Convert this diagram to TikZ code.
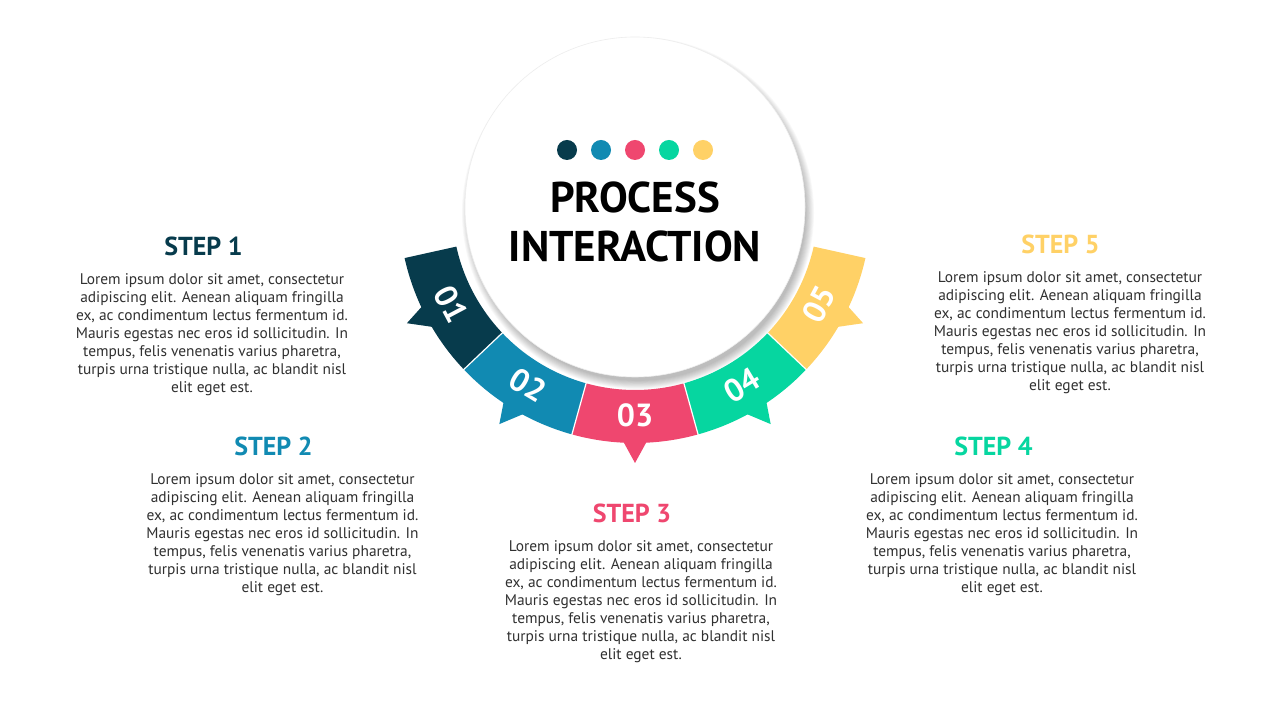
\documentclass[tikz,border=0pt]{standalone}
\usepackage{fontspec}
\setmainfont{PT Sans}
\definecolor{cA}{HTML}{073B4C}
\definecolor{cB}{HTML}{118AB2}
\definecolor{cC}{HTML}{EF476F}
\definecolor{cD}{HTML}{06D6A0}
\definecolor{cE}{HTML}{FFD166}
\definecolor{bodytxt}{HTML}{303030}
\newcommand{\lorem}{Lorem ipsum dolor sit amet, consectetur\\adipiscing elit. Aenean aliquam fringilla\\ex, ac condimentum lectus fermentum id.\\Mauris egestas nec eros id sollicitudin. In\\tempus, felis venenatis varius pharetra,\\turpis urna tristique nulla, ac blandit nisl\\elit eget est.}
\tikzset{
  steptitle/.style={anchor=base,inner sep=0pt,font=\fontsize{26}{26}\selectfont\bfseries},
  bodybox/.style={anchor=center,inner sep=0pt,align=center,text=bodytxt,font=\fontsize{15.4}{18}\selectfont},
  numlabel/.style={text=white,inner sep=0pt,font=\fontsize{32}{32}\selectfont\bfseries},
  titletxt/.style={anchor=base,inner sep=0pt,font=\fontsize{43}{43}\selectfont\bfseries},
}
\begin{document}
\begin{tikzpicture}[x=1pt,y=1pt]
\useasboundingbox (0,0) rectangle (1282,722);
\fill[white] (0,0) rectangle (1282,722);
% segments
\begin{scope}[shift={(635,515)}]
\foreach \i/\col/\tipoff in {1/cA/-1,2/cB/-1,3/cC/0,4/cD/1,5/cE/1}{
  \pgfmathsetmacro{\aa}{-167.5+31*(\i-1)}
  \pgfmathsetmacro{\ab}{\aa+31}
  \pgfmathsetmacro{\am}{\aa+15.5}
  \fill[\col] (\aa:183pt) -- (\aa:236pt) arc[start angle=\aa,end angle=\ab,radius=236pt]
     -- (\ab:183pt) arc[start angle=\ab,end angle=\aa,radius=183pt] -- cycle;
  \fill[\col] (\am-3.3:232pt) -- (\am+\tipoff:256pt) -- (\am+3.3:232pt) -- cycle;
}
\foreach \a in {-136.5,-105.5,-74.5,-43.5}{
  \draw[white,line width=1.2pt] (\a:182pt) -- (\a:237pt);
}
\node[numlabel,rotate=-62] (n1) at (-152:208pt) {01};
\node[numlabel,rotate=-31] (n2) at (-121:208pt) {02};
\node[numlabel] (n3) at (-90:208pt) {03};
\node[numlabel,rotate=31] (n4) at (-59:208pt) {04};
\node[numlabel,rotate=62] (n5) at (-28:208pt) {05};
\end{scope}
% shadow of circle
\foreach \k in {1,...,10}{
  \fill[black,opacity=0.028] (638,509) circle ({167pt+\k*0.9pt});
}
\node[circle,fill=white,draw=black!7,line width=0.6pt,minimum size=340pt,inner sep=0pt] (main) at (635,515) {};
% dots
\fill[cA] (567,572) circle (10pt);
\fill[cB] (601,572) circle (10pt);
\fill[cC] (635,572) circle (10pt);
\fill[cD] (669,572) circle (10pt);
\fill[cE] (703,572) circle (10pt);
\node[titletxt] (t1) at (635,509) {PROCESS};
\node[titletxt] (t2) at (635,460) {INTERACTION};
% steps
\node[steptitle,text=cA] (s1) at (203.5,466) {STEP 1};
\node[bodybox] (b1) at (212,387) {\lorem};
\node[steptitle,text=cB] (s2) at (273.5,266) {STEP 2};
\node[bodybox] (b2) at (282.5,187) {\lorem};
\node[steptitle,text=cC] (s3) at (632,199) {STEP 3};
\node[bodybox] (b3) at (641,120) {\lorem};
\node[steptitle,text=cD] (s4) at (993.5,266) {STEP 4};
\node[bodybox] (b4) at (1002,187) {\lorem};
\node[steptitle,text=cE] (s5) at (1060.5,468) {STEP 5};
\node[bodybox] (b5) at (1070,389) {\lorem};
\end{tikzpicture}
\end{document}
